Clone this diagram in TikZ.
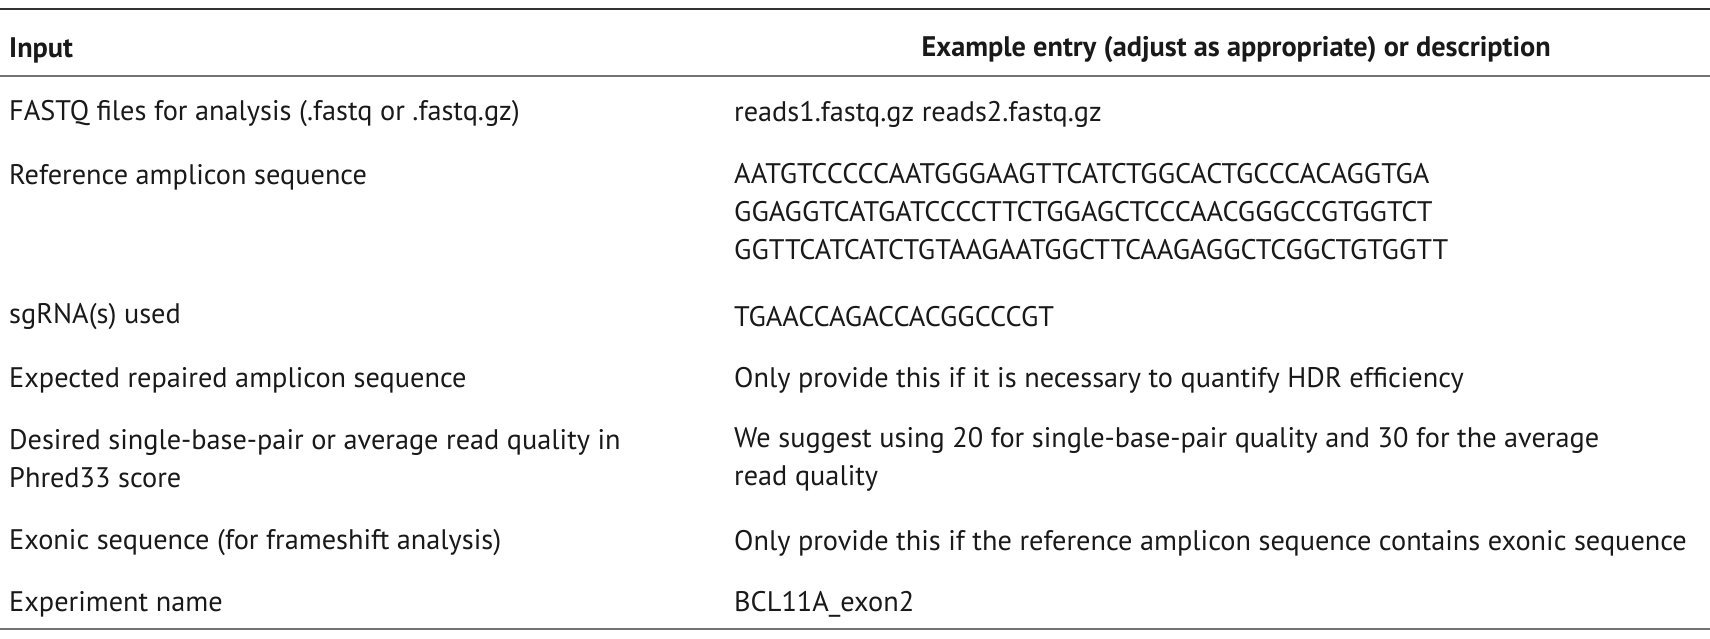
\documentclass[tikz,border=0pt]{standalone}
\usepackage{fontspec}
\setmainfont{PT Sans}
\begin{document}
\begin{tikzpicture}[x=1pt,y=-1pt,
  t/.style={anchor=west,inner sep=0pt,font=\fontsize{28.3}{38}\selectfont,text=black!90,align=left},
  h/.style={t,font=\fontsize{28.3}{38}\selectfont\bfseries},
  rl/.style={line width=1.6pt,black!80}]
\useasboundingbox (0,0) rectangle (1710,639);
\coordinate (tl) at (0,9); \coordinate (tr) at (1710,9);
\coordinate (hl) at (0,76); \coordinate (hr) at (1710,76);
\coordinate (bl) at (0,629); \coordinate (br) at (1710,629);
\draw[rl] (tl) -- (tr);
\draw[rl,black!55] (hl) -- (hr);
\draw[rl,black!55] (bl) -- (br);
\node[h] (h1) at (9,50) {Input};
\node[h,anchor=east] (h2) at (1551,50) {Example entry (adjust as appropriate) or description};
\node[t] (a1) at (9,114) {FASTQ files for analysis (.fastq or .fastq.gz)};
\node[t] (b1) at (734,114) {reads1.fastq.gz reads2.fastq.gz};
\node[t] (a2) at (9,177) {Reference amplicon sequence};
\node[t,anchor=north west] (b2) at (734,163) {AATGTCCCCCAATGGGAAGTTCATCTGGCACTGCCCACAGGTGA\\GGAGGTCATGATCCCCTTCTGGAGCTCCCAACGGGCCGTGGTCT\\GGTTCATCATCTGTAAGAATGGCTTCAAGAGGCTCGGCTGTGGTT};
\node[t] (a3) at (9,317) {sgRNA(s) used};
\node[t] (b3) at (734,317) {TGAACCAGACCACGGCCCGT};
\node[t] (a4) at (9,380) {Expected repaired amplicon sequence};
\node[t] (b4) at (734,380) {Only provide this if it is necessary to quantify HDR efficiency};
\node[t] (a5) at (9,459) {Desired single-base-pair or average read quality in\\Phred33 score};
\node[t] (b5) at (734,459) {We suggest using 20 for single-base-pair quality and 30 for the average\\read quality};
\node[t] (a6) at (9,543) {Exonic sequence (for frameshift analysis)};
\node[t] (b6) at (734,543) {Only provide this if the reference amplicon sequence contains exonic sequence};
\node[t] (a7) at (9,604) {Experiment name};
\node[t] (b7) at (734,604) {BCL11A\_exon2};
\end{tikzpicture}
\end{document}
